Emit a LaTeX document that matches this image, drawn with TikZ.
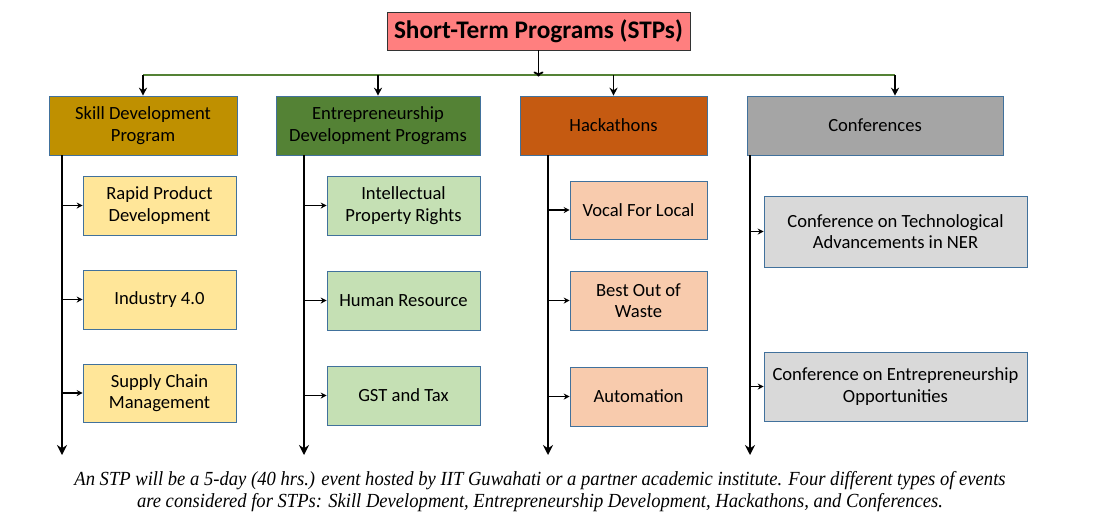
\documentclass[tikz,border=0pt]{standalone}
\usepackage{fontspec}
\setmainfont{Carlito}
\newfontfamily\capfont[FakeStretch=0.93]{Liberation Serif}
\usepackage{xcolor}
\usetikzlibrary{positioning, arrows.meta}

\definecolor{boxline}{HTML}{41719C}
\definecolor{titlefill}{HTML}{FF7F7F}
\definecolor{bargreen}{HTML}{548235}
\definecolor{skillfill}{HTML}{BF9000}
\definecolor{edpfill}{HTML}{548235}
\definecolor{hackfill}{HTML}{C55A11}
\definecolor{conffill}{HTML}{A5A5A5}
\definecolor{skillsub}{HTML}{FFE699}
\definecolor{edpsub}{HTML}{C5E0B4}
\definecolor{hacksub}{HTML}{F8CBAD}
\definecolor{confsub}{HTML}{D9D9D9}

\begin{document}
\begin{tikzpicture}[x=1pt, y=-1pt, >={Stealth[length=10pt,width=10pt]}, font=\fontsize{18.6}{21.5}\selectfont]
    % Styles
    \tikzstyle{head} = [rectangle, draw=black!80, line width=0.8pt, fill=titlefill, inner sep=0pt, minimum width=303pt, minimum height=38pt, font=\fontsize{25.3}{30}\selectfont\bfseries]
    \tikzstyle{cat} = [rectangle, draw=boxline, line width=0.6pt, inner sep=0pt, minimum height=59pt, align=center]
    \tikzstyle{sub} = [rectangle, draw=boxline, line width=0.6pt, inner sep=0pt, align=center]
    \tikzstyle{trunk} = [draw, ->, line width=2.8pt]
    \tikzstyle{branch} = [draw, -{Stealth[length=6pt,width=6pt]}, line width=1.2pt]
    \tikzstyle{drop} = [draw, -{Stealth[length=8pt,width=8pt]}, line width=1.6pt]

    \useasboundingbox (0,0) rectangle (1097,523);

    % Title
    \node [head] (stp) at (538.5,31) {Short-Term Programs (STPs)};

    % Category nodes
    \node [cat, fill=skillfill, minimum width=188pt] (skill) at (143,125.5) {Skill Development\\Program};
    \node [cat, fill=edpfill, minimum width=204pt] (edp) at (378,125.5) {Entrepreneurship\\Development Programs};
    \node [cat, fill=hackfill, minimum width=187pt] (hack) at (613.5,125.5) {Hackathons};
    \node [cat, fill=conffill, minimum width=256pt] (conf) at (875,125.5) {Conferences};

    % Sub nodes
    \node [sub, fill=skillsub, minimum width=153pt, minimum height=59pt] (rpd) at (159.5,205.5) {Rapid Product\\Development};
    \node [sub, fill=skillsub, minimum width=153pt, minimum height=59pt] (ind) at (159.5,299.5) {Industry 4.0};
    \node [sub, fill=skillsub, minimum width=153pt, minimum height=58pt] (scm) at (159.5,393) {Supply Chain\\Management};

    \node [sub, fill=edpsub, minimum width=153pt, minimum height=59pt] (ipr) at (403.5,205.5) {Intellectual\\Property Rights};
    \node [sub, fill=edpsub, minimum width=153pt, minimum height=59pt] (hr) at (403.5,300.5) {Human Resource};
    \node [sub, fill=edpsub, minimum width=153pt, minimum height=59pt] (gst) at (403.5,395.5) {GST and Tax};

    \node [sub, fill=hacksub, minimum width=137pt, minimum height=58pt] (vfl) at (638.5,210) {Vocal For Local};
    \node [sub, fill=hacksub, minimum width=137pt, minimum height=59pt] (bow) at (638.5,300.5) {Best Out of\\Waste};
    \node [sub, fill=hacksub, minimum width=137pt, minimum height=59pt] (aut) at (638.5,396.5) {Automation};

    \node [sub, fill=confsub, minimum width=263pt, minimum height=71pt] (tech) at (895.5,231.5) {Conference on Technological\\Advancements in NER};
    \node [sub, fill=confsub, minimum width=263pt, minimum height=69pt] (ent) at (895.5,386.5) {Conference on Entrepreneurship\\Opportunities};

    % Bar
    \coordinate (barL) at (143,75);
    \coordinate (barR) at (895,75);
    \draw [bargreen, line width=2.6pt] (barL) -- (barR);
    \path [draw, -{To[length=5pt,width=10pt]}, line width=1.8pt] (stp.south) -- ([yshift=-1.5pt]stp.south |- barL);
    \foreach \c in {skill, edp, hack}
        \path [drop] (\c.north |- barL) -- (\c.north);
    \path [drop] (barR) -- (barR |- conf.north);

    % Trunks
    \coordinate (skillEnd) at (62,455);
    \coordinate (edpEnd) at (304,455);
    \coordinate (hackEnd) at (548,455);
    \coordinate (confEnd) at (750,455);
    \path [trunk] (skill.south -| skillEnd) -- (skillEnd);
    \path [trunk] (edp.south -| edpEnd) -- (edpEnd);
    \path [trunk] (hack.south -| hackEnd) -- (hackEnd);
    \path [trunk] (conf.south -| confEnd) -- (confEnd);

    % Branches
    \foreach \s in {rpd, ind, scm}
        \path [branch] (\s.west -| skillEnd) -- (\s.west);
    \foreach \s in {ipr, hr, gst}
        \path [branch] (\s.west -| edpEnd) -- (\s.west);
    \foreach \s in {vfl, bow, aut}
        \path [branch] (\s.west -| hackEnd) -- (\s.west);
    \foreach \s in {tech, ent}
        \path [branch] (\s.west -| confEnd) -- (\s.west);

    % Caption
    \node [align=center, font=\capfont\itshape\fontsize{20}{22}\selectfont] (note) at (540,492) {An STP will be a 5-day (40 hrs.) event hosted by IIT Guwahati or a partner academic institute. Four different types of events\\are considered for STPs: Skill Development, Entrepreneurship Development, Hackathons, and Conferences.};
\end{tikzpicture}
\end{document}
